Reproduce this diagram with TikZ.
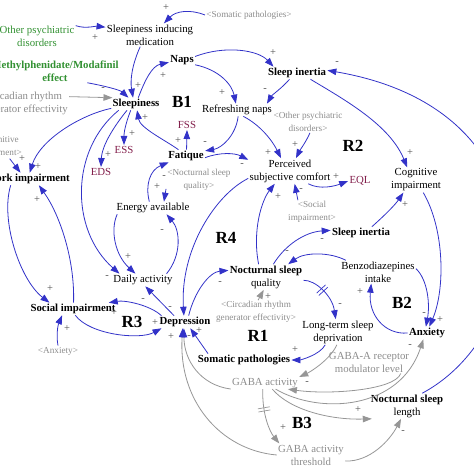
\documentclass[tikz,border=0pt]{standalone}
\usepackage{fontspec}
\setmainfont{Liberation Serif}
\usetikzlibrary{arrows.meta,decorations.markings}
\definecolor{cldblue}{RGB}{50,50,200}
\definecolor{cldgray}{RGB}{150,150,150}
\definecolor{txtgray}{RGB}{140,140,140}
\definecolor{extgreen}{RGB}{50,145,50}
\definecolor{idxred}{RGB}{130,30,75}
\definecolor{sgngray}{RGB}{80,80,80}
\tikzset{delay/.style 2 args={postaction={decorate, decoration={markings, mark=at position #1 with {\draw[-, draw=#2, line width=0.7pt] (-1.6pt,-6pt) -- (-1.6pt,6pt) (1.6pt,-6pt) -- (1.6pt,6pt);}}}}}

\begin{document}
\begin{tikzpicture}[x=1pt, y=-1pt, >={Triangle[length=9pt,width=6.5pt]}, line width=0.8pt]
\tikzstyle{var}=[align=center, inner sep=1pt, font=\fontsize{10.8}{13}\selectfont]
\tikzstyle{key}=[var, font=\fontsize{10.8}{13}\selectfont\bfseries]
\tikzstyle{shadow}=[var, text=txtgray, font=\fontsize{9.2}{12.5}\selectfont]
\tikzstyle{ext}=[var, text=extgreen]
\tikzstyle{idx}=[var, text=idxred]
\tikzstyle{loopname}=[font=\fontsize{17}{17}\selectfont\bfseries, inner sep=0pt]
\tikzstyle{sgn}=[font=\fontsize{10.5}{10.5}\selectfont, text=sgngray, inner sep=0pt]
\tikzstyle{link}=[->, draw=cldblue]
\tikzstyle{glink}=[->, draw=cldgray]
\tikzstyle{blink}=[draw=cldgray, -{Triangle[length=9pt,width=6.5pt,color=cldblue]}]
\useasboundingbox (0,0) rectangle (474,474);
\clip (0,0) rectangle (474,474);

% variables
\node[ext] (oth) at (37,36) {Other psychiatric\\disorders};
\node[var] (med) at (150,35) {Sleepiness inducing\\medication};
\node[shadow] (som2) at (249,15) {<Somatic pathologies>};
\node[ext, font=\fontsize{10.8}{13}\selectfont\bfseries] (mph) at (55,71) {Methylphenidate/Modafinil\\effect};
\node[key] (naps) at (182,60) {Naps};
\node[key] (si1) at (297,73) {Sleep inertia};
\node[var, text=txtgray] (cir1) at (24,103) {Circadian rhythm\\generator effectivity};
\node[key] (slp) at (136,104) {Sleepiness};
\node[var] (rfn) at (237,110) {Refreshing naps};
\node[shadow] (oth2) at (308,122) {<Other psychiatric\\disorders>};
\node[idx] (fss) at (187,125) {FSS};
\node[idx] (ess) at (124,150) {ESS};
\node[idx] (eds) at (101,172) {EDS};
\node[key] (fat) at (186,156) {Fatique};
\node[shadow] (cog2) at (-2,147) {<Cognitive\\impairment>};
\node[key] (work) at (28,179) {Work impairment};
\node[shadow] (nsq2) at (199,180) {<Nocturnal sleep\\quality>};
\node[var] (psc) at (290,171) {Perceived\\subjective comfort};
\node[idx] (eql) at (360,181) {EQL};
\node[var] (cog) at (416,180) {Cognitive\\impairment};
\node[var] (enr) at (153,208) {Energy available};
\node[shadow] (soc2) at (312,212) {<Social\\impairment>};
\node[key] (si2) at (361,233) {Sleep inertia};
\node[var] (nsq) at (266,277) {\textbf{Nocturnal sleep}\\quality};
\node[var] (bzd) at (378,272) {Benzodiazepines\\intake};
\node[var] (day) at (143,280) {Daily activity};
\node[key] (soc) at (73,309) {Social impairment};
\node[key] (dep) at (185,322) {Depression};
\node[shadow] (cir2) at (256,312) {<Circadian rhythm\\generator effectivity>};
\node[var] (ltd) at (338,332) {Long-term sleep\\deprivation};
\node[key] (anx) at (427,333) {Anxiety};
\node[shadow] (anx2) at (58,351) {<Anxiety>};
\node[key] (som) at (244,360) {Somatic pathologies};
\node[var, text=txtgray] (gaa) at (369,362) {GABA-A receptor\\modulator level};
\node[var, text=txtgray] (gab) at (265,383) {GABA activity};
\node[var] (nsl) at (407,406) {\textbf{Nocturnal sleep}\\length};
\node[var, text=txtgray] (gat) at (311,455) {GABA activity\\threshold};

% loop names
\node[loopname] (b1) at (182,102) {B1};
\node[loopname] (r2) at (353,146) {R2};
\node[loopname] (r4) at (226,238) {R4};
\node[loopname] (r3) at (132,322) {R3};
\node[loopname] (b2) at (402,303) {B2};
\node[loopname] (r1) at (258,336) {R1};
\node[loopname] (b3) at (302,423) {B3};

% links
\draw[link] (oth.15) .. controls (85,29) and (95,26) .. (med.170);
\draw[link] (som2.west) .. controls (190,9) and (176,11) .. (med.40);
\draw[link] (med.230) .. controls (132,65) and (130,80) .. (slp.115);
\draw[link] (mph.-20) .. controls (105,86) and (120,90) .. (slp.140);
\draw[glink] (cir1.8) -- (slp.165);
\draw[link] (slp.70) .. controls (145,80) and (152,66) .. (naps.190);
\draw[link] (naps.15) .. controls (225,45) and (258,50) .. (si1.165);
\draw[link] (naps.-20) .. controls (220,70) and (232,85) .. (rfn.100);
\draw[link] (si1.220) .. controls (282,88) and (272,95) .. (rfn.12);
\draw[link] (nsl.40) .. controls (540,330) and (560,110) .. (si1.5);
\draw[link] (si1.-25) .. controls (345,100) and (390,125) .. (cog.125);
\draw[link] (rfn.-80) .. controls (236,135) and (222,148) .. (fat.15);
\draw[link] (fat.140) .. controls (165,140) and (140,128) .. (slp.-80);
\draw[link] (fat.85) -- (fss.south);
\draw[link] (slp.-130) .. controls (127,120) and (124,130) .. (ess.north);
\draw[link] (slp.-145) .. controls (115,125) and (102,145) .. (eds.north);
\draw[link] (slp.190) .. controls (80,115) and (40,140) .. (work.75);
\draw[link] (cog2.-45) -- (work.140);
\draw[link] (slp.200) .. controls (70,150) and (70,230) .. (day.165);
\draw[link] (enr.190) .. controls (110,230) and (115,255) .. (day.140);
\draw[link] (day.15) .. controls (182,255) and (180,230) .. (enr.-25);
\draw[link] (enr.120) .. controls (145,185) and (150,170) .. (fat.-160);
\draw[link] (nsq2.195) -- (enr.30);
\draw[link] (fat.-5) .. controls (220,152) and (235,153) .. (psc.165);
\draw[link] (rfn.-45) .. controls (260,125) and (272,140) .. (psc.125);
\draw[link] (oth2.-80) .. controls (306,142) and (300,150) .. (psc.65);
\draw[link] (psc.-35) .. controls (320,190) and (335,186) .. (eql.west);
\draw[link] (nsq.120) .. controls (252,230) and (262,200) .. (psc.-140);
\draw[link] (soc2.140) -- (psc.-70);
\draw[link] (psc.190) .. controls (215,195) and (180,250) .. (dep.100);
\draw[link] (dep.150) -- (day.-70);
\draw[link] (dep.165) .. controls (150,305) and (125,300) .. (soc.10);
\draw[link] (soc.-70) .. controls (90,335) and (140,340) .. (dep.-165);
\draw[link] (anx2.north) .. controls (56,335) and (58,325) .. (soc.-150);
\draw[link] (work.-160) .. controls (0,220) and (20,280) .. (soc.165);
\draw[link] (soc.85) .. controls (75,260) and (60,215) .. (work.-30);
\draw[link] (som.170) -- (dep.-50);
\draw[link] (dep.60) .. controls (195,290) and (210,272) .. (nsq.170);
\draw[link] (nsq.60) .. controls (285,245) and (305,232) .. (si2.175);
\draw[link] (bzd.160) .. controls (330,252) and (305,252) .. (nsq.30);
\draw[link, delay={0.4}{cldblue}] (nsq.-5) .. controls (315,280) and (332,295) .. (ltd.100);
\draw[link] (ltd.-135) .. controls (320,355) and (300,360) .. (som.east);
\draw[glink] (ltd.-95) .. controls (330,360) and (310,372) .. (gab.10);
\draw[link] (anx.west) .. controls (385,335) and (368,315) .. (bzd.-120);
\draw[link] (bzd.5) .. controls (428,280) and (430,305) .. (anx.100);
\draw[link] (cog.-60) .. controls (445,230) and (445,290) .. (anx.70);
\draw[link] (si2.30) .. controls (385,215) and (395,205) .. (cog.-135);
\draw[glink] (gaa.-20) .. controls (395,390) and (330,395) .. (gab.-15);
\draw[glink] (gab.-30) .. controls (320,415) and (400,410) .. (anx.-120);
\draw[glink] (gab.-40) .. controls (290,410) and (330,420) .. (nsl.-160);
\draw[glink, delay={0.35}{cldgray}] (gab.-110) .. controls (262,415) and (270,432) .. (gat.160);
\draw[glink] (gat.-10) .. controls (370,462) and (390,440) .. (nsl.-115);
\draw[blink] (gab.-170) .. controls (200,385) and (184,360) .. (dep.-100);
\draw[blink] (gat.180) .. controls (220,450) and (178,400) .. (dep.-110);
\draw[glink] (cir2.80) -- (nsq.-100);

% polarities
\node[sgn] (s1) at (95,38) {+};
\node[sgn] (s2) at (166,8) {+};
\node[sgn] (s3) at (138,86) {+};
\node[sgn] (s4) at (103,89) {-};
\node[sgn] (s5) at (163,76) {+};
\node[sgn] (s6) at (273,53) {+};
\node[sgn] (s7) at (222,93) {+};
\node[sgn] (s8) at (265,90) {-};
\node[sgn] (s9) at (337,63) {-};
\node[sgn] (s10) at (410,153) {+};
\node[sgn] (s11) at (205,143) {-};
\node[sgn] (s12) at (145,118) {+};
\node[sgn] (s13) at (178,141) {+};
\node[sgn] (s14) at (132,134) {+};
\node[sgn] (s15) at (108,155) {+};
\node[sgn] (s16) at (38,167) {+};
\node[sgn] (s17) at (22,159) {+};
\node[sgn] (s18) at (37,200) {+};
\node[sgn] (s19) at (107,277) {-};
\node[sgn] (s20) at (128,257) {+};
\node[sgn] (s21) at (162,231) {-};
\node[sgn] (s22) at (164,177) {-};
\node[sgn] (s23) at (157,187) {+};
\node[sgn] (s24) at (242,165) {-};
\node[sgn] (s25) at (268,153) {+};
\node[sgn] (s26) at (295,145) {+};
\node[sgn] (s27) at (336,177) {+};
\node[sgn] (s28) at (278,197) {+};
\node[sgn] (s29) at (301,190) {-};
\node[sgn] (s30) at (170,308) {-};
\node[sgn] (s31) at (143,300) {-};
\node[sgn] (s32) at (114,313) {+};
\node[sgn] (s33) at (155,323) {+};
\node[sgn] (s34) at (67,329) {+};
\node[sgn] (s35) at (50,289) {+};
\node[sgn] (s36) at (199,331) {+};
\node[sgn] (s37) at (171,337) {+};
\node[sgn] (s38) at (189,337) {-};
\node[sgn] (s39) at (220,283) {-};
\node[sgn] (s40) at (322,240) {-};
\node[sgn] (s41) at (287,252) {-};
\node[sgn] (s42) at (340,305) {-};
\node[sgn] (s43) at (295,350) {+};
\node[sgn] (s44) at (360,292) {+};
\node[sgn] (s45) at (424,314) {-};
\node[sgn] (s46) at (440,320) {+};
\node[sgn] (s47) at (405,205) {+};
\node[sgn] (s48) at (268,297) {+};
\node[sgn] (s49) at (307,383) {-};
\node[sgn] (s50) at (410,346) {-};
\node[sgn] (s51) at (358,410) {+};
\node[sgn] (s52) at (283,428) {+};
\node[sgn] (s53) at (403,432) {-};
\end{tikzpicture}
\end{document}
